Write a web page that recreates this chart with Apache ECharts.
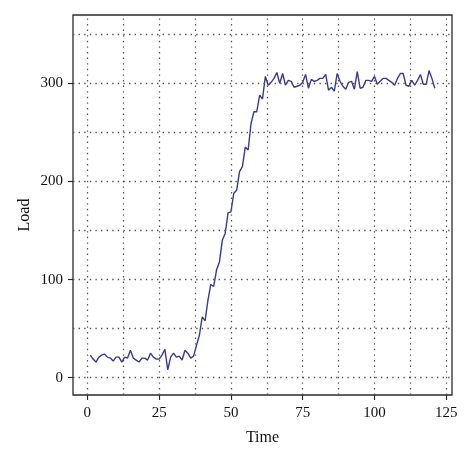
<!DOCTYPE html>
<html>
<head>
<meta charset="utf-8">
<script src="https://cdn.jsdelivr.net/npm/echarts@6/dist/echarts.min.js"></script>
<style>
  html, body { margin: 0; padding: 0; background: #fff; }
  #chart { width: 474px; height: 458px; }
</style>
</head>
<body>
<div id="chart"></div>
<script>
// time steps 1..121
var time = [];
for (var t = 1; t <= 121; t++) time.push(t);

// load
var load = [
  23, 19, 16, 21, 23, 24, 21, 20, 17, 21,
  21, 16, 21, 20, 28, 20, 18, 16, 20, 20,
  18, 25, 21, 19, 19, 23, 29, 8, 21, 25,
  21, 22, 18, 28, 25, 20, 22, 33, 43, 62,
  58, 79, 95, 93, 110, 118, 140, 147, 168, 169,
  188, 191, 210, 215, 235, 232, 259, 271, 271, 288,
  284, 307, 298, 301, 305, 311, 300, 310, 298, 303,
  302, 296, 297, 298, 301, 309, 295, 304, 302, 303,
  305, 305, 309, 293, 296, 292, 310, 302, 297, 294,
  301, 302, 294, 312, 295, 296, 303, 303, 302, 307,
  299, 302, 305, 305, 303, 301, 298, 305, 310, 310,
  298, 297, 303, 298, 303, 309, 299, 299, 313, 305,
  295
];

var xTicks = [0, 25, 50, 75, 100, 125];
var yTicks = [0, 100, 200, 300];
var xGrid = [0, 12.5, 25, 37.5, 50, 62.5, 75, 87.5, 100, 112.5, 125];
var yGrid = [0, 50, 100, 150, 200, 250, 300, 350];

var font = 'Liberation Serif';
var dom = document.getElementById('chart');
var myChart = echarts.init(dom, null, { renderer: 'canvas' });

var gridLines = [];
xGrid.forEach(function (v) { gridLines.push({ xAxis: v }); });
yGrid.forEach(function (v) { gridLines.push({ yAxis: v }); });

var option = {
  animation: false,
  backgroundColor: '#fff',
  grid: {
    left: 73, right: 22, top: 15, bottom: 63,
    show: true, borderColor: '#2b2b2b', borderWidth: 1.3
  },
  xAxis: {
    type: 'value',
    min: -5, max: 127,
    name: 'Time',
    nameLocation: 'middle',
    nameGap: 35,
    nameMoveOverlap: false,
    nameTextStyle: { fontFamily: font, fontSize: 16, color: '#111' },
    axisLine: { show: false, onZero: false },
    axisTick: { show: true, length: 5, customValues: xTicks, lineStyle: { color: '#2b2b2b', width: 1.2 } },
    axisLabel: { customValues: xTicks, margin: 11, fontFamily: font, fontSize: 15, color: '#111' },
    splitLine: { show: false }
  },
  yAxis: {
    type: 'value',
    min: -17.6, max: 369.6,
    name: 'Load',
    nameLocation: 'middle',
    nameGap: 40,
    nameMoveOverlap: false,
    nameTextStyle: { fontFamily: font, fontSize: 16, color: '#111', padding: [0, 20, 0, 0] },
    axisLine: { show: false, onZero: false },
    axisTick: { show: true, length: 5, customValues: yTicks, lineStyle: { color: '#2b2b2b', width: 1.2 } },
    axisLabel: { customValues: yTicks, margin: 10, fontFamily: font, fontSize: 15, color: '#111' },
    splitLine: { show: false }
  },
  series: [{
    type: 'line',
    data: time.map(function (t, i) { return [t, load[i]]; }),
    symbol: 'none',
    lineStyle: { color: '#3b3a8e', width: 1.4 },
    markLine: {
      silent: true,
      symbol: 'none',
      label: { show: false },
      lineStyle: { color: '#555', width: 1.3, type: [1.4, 4.2] },
      data: gridLines
    }
  }]
};

myChart.setOption(option);
window.addEventListener('resize', myChart.resize);
</script>
</body>
</html>
